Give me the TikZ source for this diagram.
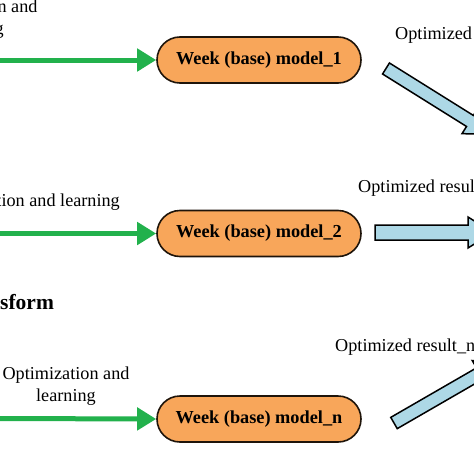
\documentclass[tikz,border=0pt]{standalone}
\usepackage{fontspec}
\setmainfont{Liberation Serif}
\usetikzlibrary{arrows.meta}
\definecolor{boxorange}{RGB}{248,166,90}
\definecolor{arrgreen}{RGB}{34,177,76}
\definecolor{arrblue}{RGB}{173,216,230}
\definecolor{boxline}{RGB}{30,20,10}
\tikzset{
  model/.style={draw=boxline, line width=1.6pt, fill=boxorange, rounded corners=23pt,
    minimum width=204pt, minimum height=46pt, inner sep=0pt,
    font=\fontsize{18.3}{22}\selectfont\bfseries},
  learn/.style={draw=arrgreen, fill=arrgreen, line width=5pt, -{Triangle[length=19pt,width=22pt]}},
  lbl/.style={font=\fontsize{18.2}{22}\selectfont, inner sep=0pt, align=center},
  blockarrow/.style={draw=black, line width=1.5pt, fill=arrblue, line join=miter},
}
\begin{document}
\begin{tikzpicture}[x=1pt,y=-1pt]
\useasboundingbox (0,0) rectangle (474,474);
\begin{scope}
\clip (0,0) rectangle (474,474);
% models
\node[model] (m1) at (259,60) {Week (base) model\_1};
\node[model] (m2) at (259,233.5) {Week (base) model\_2};
\node[model] (mn) at (259,419) {Week (base) model\_n};
% free ends of the learning arrows
\coordinate (s1) at (-2,60);
\coordinate (s2) at (-2,233.5);
\coordinate (sn) at (-2,418.5);
\draw[learn] (s1) -- (m1.west);
\draw[learn] (s2) -- (m2.west);
\draw[learn] (sn) -- (mn.west);
% learning labels
\node[lbl] (l1) at (-26,19) {Optimization and\\learning};
\node[lbl, anchor=east] (l2) at (120,202) {Optimization and learning};
\node[lbl] (ln) at (66,386) {Optimization and\\learning};
\node[font=\fontsize{21.5}{24}\selectfont\bfseries, inner sep=0pt, anchor=west] (tr) at (0,302) {sform};
% result labels
\node[lbl, anchor=west] (r1) at (395,35) {Optimized result\_1};
\node[lbl, anchor=west] (r2) at (358,188) {Optimized result\_2};
\node[lbl, anchor=west] (rn) at (335,347) {Optimized result\_n};
% block arrows
\begin{scope}[shift={(386,68.5)}, rotate=-32]
  \draw[blockarrow] (0,-6.5) -- (99,-6.5) -- (99,-15) -- (124,0) -- (99,15) -- (99,6.5) -- (0,6.5) -- cycle;
\end{scope}
\begin{scope}[shift={(375,232.5)}]
  \draw[blockarrow] (0,-7.5) -- (93,-7.5) -- (93,-15.5) -- (118,0) -- (93,15.5) -- (93,7.5) -- (0,7.5) -- cycle;
\end{scope}
\begin{scope}[shift={(394,423)}, rotate=30]
  \draw[blockarrow] (0,-6.5) -- (99,-6.5) -- (99,-15) -- (124,0) -- (99,15) -- (99,6.5) -- (0,6.5) -- cycle;
\end{scope}
\end{scope}
\end{tikzpicture}
\end{document}
